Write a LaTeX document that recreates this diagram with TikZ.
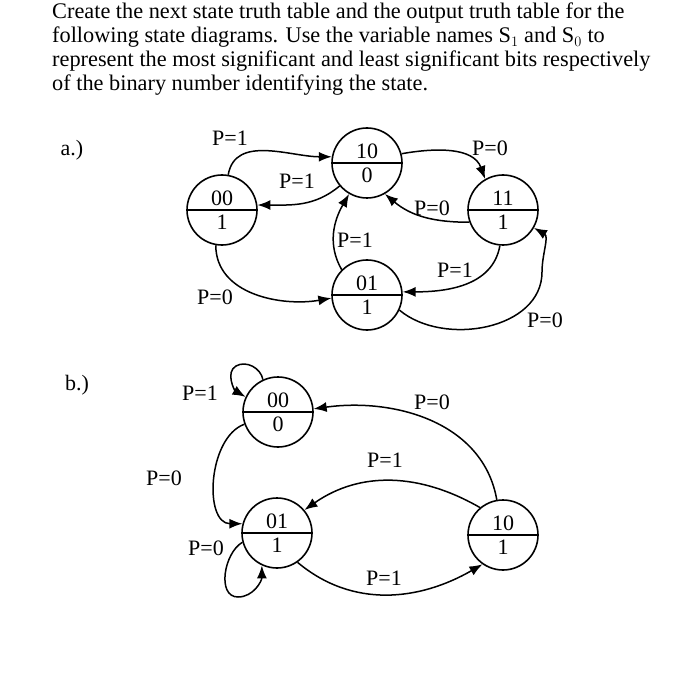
\documentclass[tikz,border=0pt]{standalone}
\usepackage{fontspec}
\setmainfont{Liberation Serif}
\usetikzlibrary{arrows.meta}
\begin{document}
\begin{tikzpicture}[x=1pt,y=-1pt,
  st/.style={circle,draw,line width=1.6pt,minimum size=70pt,inner sep=0pt},
  lb/.style={font=\fontsize{22}{22}\selectfont,inner sep=1pt},
  ed/.style={line width=1.5pt,-{Latex[length=13pt,width=10pt]}},
  hd/.style={font=\fontsize{22.3}{24}\selectfont,anchor=north west,align=left,inner sep=0pt}]
\useasboundingbox[fill=white] (0,0) rectangle (682,700);
\newcommand{\mystate}[4]{%
  \node[st] (#1) at (#2) {};
  \draw[line width=1.6pt] (#1.west) -- (#1.east);
  \node[lb] (#1t) at ([yshift=12pt]#1.center) {#3};
  \node[lb] (#1b) at ([yshift=-12pt]#1.center) {#4};}
\node[hd] (head) at (52,3) {Create the next state truth table and the output truth table for the\\following state diagrams. Use the variable names S$_1$ and S$_0$ to\\represent the most significant and least significant bits respectively\\of the binary number identifying the state.};
\node[font=\fontsize{22}{22}\selectfont] (la) at (72,150) {a.)};
\node[font=\fontsize{22}{22}\selectfont] (lbb) at (77,385) {b.)};
% part a
\mystate{a00}{222,210}{00}{1}
\mystate{a10}{367,163}{10}{0}
\mystate{a11}{503,210}{11}{1}
\mystate{a01}{367,295}{01}{1}
\draw[ed] (a00.80) to[out=80,in=180] (a10.170);
\node[lb] (e1) at (230,138) {P=1};
\draw[ed] (a10.15) to[out=10,in=110] (a11.120);
\node[lb] (e3) at (490,148) {P=0};
\draw[ed] (a10.220) to[out=220,in=0] (a00.8);
\node[lb] (e2) at (297,181) {P=1};
\draw[ed] (a11.200) to[out=180,in=-40] (a10.300);
\node[lb] (e4) at (432,208) {P=0};
\draw[ed] (a01.135) to[out=120,in=240] (a10.240);
\node[lb] (e5) at (355,240) {P=1};
\draw[ed] (a11.265) to[out=-100,in=0] (a01.5);
\node[lb] (e6) at (455,270) {P=1};
\draw[ed] (a00.260) to[out=-90,in=190] (a01.185);
\node[lb] (e7) at (215,297) {P=0};
\draw[ed] (a01.335) to[out=-40,in=-90] (542,272) to[out=90,in=-30] (a11.330);
\node[lb] (e8) at (545,320) {P=0};
% part b
\mystate{b00}{278,412}{00}{0}
\mystate{b01}{277,533}{01}{1}
\mystate{b10}{503,535}{10}{1}
\draw[ed] (b00.115) to[out=100,in=30] (236,366) to[out=210,in=150] (b00.155);
\node[lb] (f1) at (200,393) {P=1};
\draw[ed] (b00.200) to[out=200,in=180] (b01.165);
\node[lb] (f2) at (164,478) {P=0};
\draw[ed] (b10.100) to[out=100,in=8] (b00.5);
\node[lb] (f3) at (432,402) {P=0};
\draw[ed] (b10.130) to[out=150,in=35] (b01.40);
\node[lb] (f4) at (385,460) {P=1};
\draw[ed] (b01.195) to[out=210,in=180] (238,597) to[out=0,in=-90] (b01.245);
\node[lb] (f5) at (206,548) {P=0};
\draw[ed] (b01.305) to[out=-40,in=210] (b10.235);
\node[lb] (f6) at (384,578) {P=1};
\end{tikzpicture}
\end{document}
